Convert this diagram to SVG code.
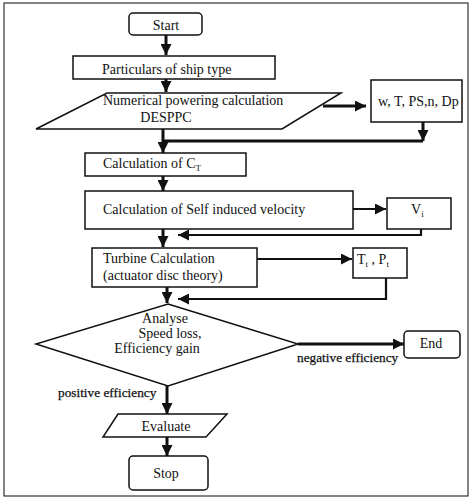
<svg xmlns="http://www.w3.org/2000/svg" width="474" height="501" viewBox="0 0 474 501">
<defs>
<style>
.bx{fill:#fff;stroke:#111;stroke-width:1.5}
.t{font-family:"Liberation Serif","Times New Roman",serif;font-size:14px;fill:#111}
.lb{font-family:"Liberation Serif","Times New Roman",serif;font-size:13.3px;fill:#111;stroke:#111;stroke-width:0.25}
.thick{fill:none;stroke:#111;stroke-width:3}
.mid{fill:none;stroke:#111;stroke-width:2.2}
.sub{font-size:9px}
</style>
<marker id="ah" viewBox="0 0 10 10" refX="10" refY="5" markerWidth="11" markerHeight="11" markerUnits="userSpaceOnUse" orient="auto">
<path d="M0,0 L10,5 L0,10 z" fill="#111"/>
</marker>
</defs>
<rect x="0" y="0" width="474" height="501" fill="#fff"/>
<rect x="4" y="3" width="464" height="493" fill="none" stroke="#333" stroke-width="1.2"/>

<g id="connectors">
<line class="thick" x1="166" y1="35" x2="166" y2="55" marker-end="url(#ah)"/>
<line class="thick" x1="166" y1="79" x2="166" y2="92" marker-end="url(#ah)"/>
<line class="thick" x1="323" y1="106" x2="366" y2="106" marker-end="url(#ah)"/>
<line class="thick" x1="423" y1="122" x2="423" y2="141" marker-end="url(#ah)"/>
<polyline class="thick" points="423,141 163,141"/>
<line class="thick" x1="163" y1="129" x2="163" y2="153" marker-end="url(#ah)"/>
<line class="thick" x1="163" y1="176" x2="163" y2="191" marker-end="url(#ah)"/>
<line class="mid" x1="353" y1="209" x2="386" y2="209" marker-end="url(#ah)"/>
<polyline class="mid" points="421,229 421,235 178,235" marker-end="url(#ah)"/>
<line class="thick" x1="163" y1="229" x2="163" y2="247" marker-end="url(#ah)"/>
<line class="mid" x1="257" y1="259" x2="352" y2="259" marker-end="url(#ah)"/>
<polyline class="mid" points="386,278 386,299 178,299" marker-end="url(#ah)"/>
<line class="thick" x1="167" y1="287" x2="167" y2="303" marker-end="url(#ah)"/>
<line class="thick" x1="298" y1="344" x2="404" y2="344" marker-end="url(#ah)"/>
<line class="thick" x1="167" y1="386" x2="167" y2="414" marker-end="url(#ah)"/>
<line class="thick" x1="167" y1="437" x2="167" y2="456" marker-end="url(#ah)"/>
<text class="lb" x="297" y="362">negative efficiency</text>
<text class="lb" x="58" y="397">positive efficiency</text>
</g>

<g id="start">
<rect class="bx" x="129" y="13" width="73" height="22" rx="4"/>
<text class="t" x="166" y="30" text-anchor="middle">Start</text>
</g>
<g id="particulars">
<rect class="bx" x="73" y="56" width="202" height="23"/>
<text class="t" x="102" y="74">Particulars of ship type</text>
</g>
<g id="numerical">
<polygon class="bx" points="107,93 341,93 282,129 36,129" stroke-width="1"/>
<text class="t" x="103" y="105">Numerical powering calculation</text>
<text class="t" x="166" y="122" text-anchor="middle">DESPPC</text>
</g>
<g id="outputs">
<rect class="bx" x="371" y="80" width="91" height="42"/>
<text class="t" x="378" y="106">w, T, PS,n, Dp</text>
</g>
<g id="ct">
<rect class="bx" x="85" y="153" width="161" height="23"/>
<text class="t" x="103" y="168">Calculation of C<tspan class="sub" dy="3">T</tspan></text>
</g>
<g id="selfinduced">
<rect class="bx" x="85" y="191" width="268" height="38"/>
<text class="t" x="103" y="214">Calculation of Self induced velocity</text>
</g>
<g id="vi">
<rect class="bx" x="387" y="198" width="64" height="31"/>
<text class="t" x="411" y="214" fill="#1a1a5a">V<tspan class="sub" dy="3">i</tspan></text>
</g>
<g id="turbine">
<rect class="bx" x="92" y="248" width="165" height="39"/>
<text class="t" x="103" y="263">Turbine Calculation</text>
<text class="t" x="103" y="280">(actuator disc theory)</text>
</g>
<g id="tp">
<rect class="bx" x="353" y="248" width="54" height="30"/>
<text class="t" x="357" y="264" fill="#1a1a5a">T<tspan class="sub" dy="3">t</tspan><tspan dy="-3"> , P</tspan><tspan class="sub" dy="3">t</tspan></text>
</g>
<g id="analyse">
<polygon class="bx" points="168,304 298,344 168,386 36,344" stroke-width="1"/>
<text class="t" x="165" y="323" text-anchor="middle">Analyse</text>
<text class="t" x="170" y="338" text-anchor="middle">Speed loss,</text>
<text class="t" x="157" y="353" text-anchor="middle">Efficiency gain</text>
</g>
<g id="end">
<rect class="bx" x="404" y="331" width="56" height="27" rx="4"/>
<text class="t" x="431" y="348" text-anchor="middle">End</text>
</g>
<g id="evaluate">
<polygon class="bx" points="118,414 227,414 206,437 103,437" stroke-width="1"/>
<text class="t" x="166" y="431" text-anchor="middle">Evaluate</text>
</g>
<g id="stop">
<rect class="bx" x="129" y="456" width="79" height="34" rx="4"/>
<text class="t" x="166" y="478" text-anchor="middle">Stop</text>
</g>
</svg>
